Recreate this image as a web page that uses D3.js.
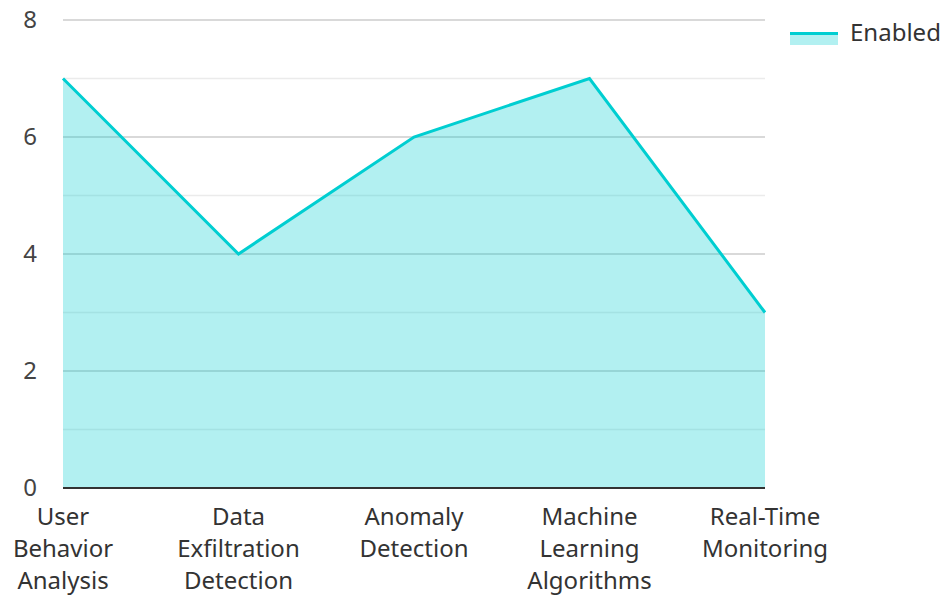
<!DOCTYPE html>
<html><head><meta charset="utf-8">
<script src="https://cdn.jsdelivr.net/npm/d3@7"></script>
<style>body{margin:0;background:#fff}text{font-family:"Noto Sans","Open Sans",sans-serif}</style>
</head><body>
<svg id="c" width="946" height="596"></svg>
<script>
const categories = ["User Behavior Analysis", "Data Exfiltration Detection", "Anomaly Detection", "Machine Learning Algorithms", "Real-Time Monitoring"];
const enabled = [7, 4, 6, 7, 3];
const yTicks = [0, 2, 4, 6, 8];
const seriesName = "Enabled";
const color = "#00CED1";

const svg = d3.select("#c");
const m = {l: 63, r: 765, t: 20, b: 488};
const x = d3.scalePoint().domain(categories).range([m.l, m.r]).padding(0);
const y = d3.scaleLinear().domain([0, 8]).range([m.b, m.t]);

// grid
const gridVals = d3.range(1, 9);
svg.append("g").selectAll("line").data(gridVals).join("line")
  .attr("x1", m.l).attr("x2", m.r)
  .attr("y1", d => y(d)).attr("y2", d => y(d))
  .attr("stroke", d => d % 2 === 0 ? "#cccccc" : "#ebebeb").attr("stroke-width", 1.5);

// area
const data = categories.map((c, i) => ({c, v: enabled[i]}));
svg.append("path").datum(data)
  .attr("d", d3.area().x(d => x(d.c)).y0(y(0)).y1(d => y(d.v)))
  .attr("fill", color).attr("fill-opacity", 0.3);
svg.append("path").datum(data)
  .attr("d", d3.line().x(d => x(d.c)).y(d => y(d.v)))
  .attr("fill", "none").attr("stroke", color).attr("stroke-width", 3);

// baseline
svg.append("line").attr("x1", m.l).attr("x2", m.r).attr("y1", y(0)).attr("y2", y(0))
  .attr("stroke", "#333").attr("stroke-width", 2);

// y axis labels
svg.append("g").selectAll("text").data(yTicks).join("text")
  .attr("x", 37).attr("y", d => y(d)).attr("dy", "0.35em")
  .attr("text-anchor", "end").attr("font-size", 24).attr("fill", "#444")
  .text(d => d);

// x axis labels
const words = {
  "User Behavior Analysis": ["User", "Behavior", "Analysis"],
  "Data Exfiltration Detection": ["Data", "Exfiltration", "Detection"],
  "Anomaly Detection": ["Anomaly", "Detection"],
  "Machine Learning Algorithms": ["Machine", "Learning", "Algorithms"],
  "Real-Time Monitoring": ["Real-Time", "Monitoring"]
};
const xl = svg.append("g").selectAll("text").data(categories).join("text")
  .attr("x", d => x(d)).attr("y", 525).attr("text-anchor", "middle")
  .attr("font-size", 24).attr("fill", "#333");
xl.each(function(d) {
  d3.select(this).selectAll("tspan").data(words[d]).join("tspan")
    .attr("x", x(d)).attr("dy", (w, i) => i === 0 ? 0 : 32).text(w => w);
});

// legend
const lg = svg.append("g").attr("transform", "translate(790,32)");
lg.append("rect").attr("x", 0).attr("y", 0).attr("width", 48).attr("height", 13)
  .attr("fill", color).attr("fill-opacity", 0.3);
lg.append("line").attr("x1", 0).attr("x2", 48).attr("y1", 1.5).attr("y2", 1.5)
  .attr("stroke", color).attr("stroke-width", 3);
lg.append("text").attr("x", 60).attr("y", 1).attr("dy", "0.35em")
  .attr("font-size", 24).attr("fill", "#333").text(seriesName);
</script>
</body></html>
